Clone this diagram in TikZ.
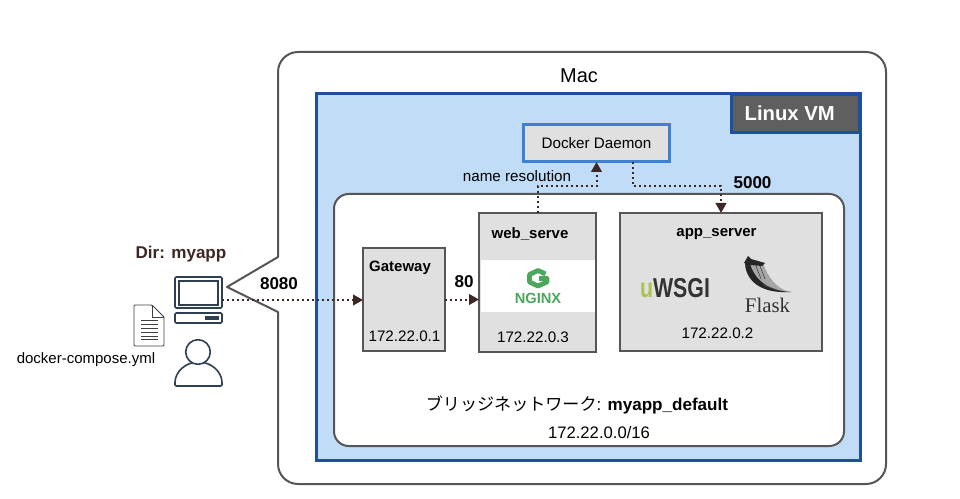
\documentclass[tikz,border=0pt]{standalone}
\usepackage{xcolor}
\usepackage{fontspec}
\setmainfont{Liberation Sans}
\newfontfamily\cjkfont{Noto Sans CJK JP}
\newfontfamily\flaskfont{Liberation Serif}
\usetikzlibrary{calc,arrows.meta}
\definecolor{frame}{HTML}{565656}
\definecolor{vmblue}{HTML}{1F4F9F}
\definecolor{vmfill}{HTML}{C0DCF7}
\definecolor{daemonblue}{HTML}{3D80D6}
\definecolor{boxgray}{HTML}{E0E0E0}
\definecolor{tagbg}{HTML}{5F5F5F}
\definecolor{linkc}{HTML}{3E2723}
\definecolor{icon}{HTML}{2F3F52}
\definecolor{nginxg}{HTML}{4CA65C}
\definecolor{uwsgig}{HTML}{A8C44E}
\tikzset{
  macbox/.style={draw=frame, fill=white, line width=1.5pt, line join=round},
  vmbox/.style={draw=vmblue, fill=vmfill, line width=2.25pt},
  vmtag/.style={draw=vmblue, fill=tagbg, line width=2.25pt, outer sep=0pt, text=white, font=\fontsize{15.2}{18}\selectfont\bfseries},
  daemonbox/.style={draw=daemonblue, fill=boxgray, line width=2.25pt, outer sep=0pt, font=\fontsize{11.4}{14}\selectfont},
  netbox/.style={draw=frame, fill=white, line width=1.5pt, rounded corners=11pt},
  srv/.style={draw=frame, fill=boxgray, line width=1.5pt, outer sep=0pt},
  link/.style={draw=linkc, line width=1.5pt, dash pattern=on 1.5pt off 2.25pt, -{Triangle[length=7.5pt,width=8pt]}},
  ico/.style={draw=icon, line width=1.2pt, rounded corners=1pt},
  lab/.style={text=black, font=\fontsize{11.4}{14}\selectfont},
  labb/.style={text=black, font=\fontsize{11.25}{14}\selectfont\bfseries},
  port/.style={text=black, font=\fontsize{12.8}{15}\selectfont\bfseries},
}
\begin{document}
\begin{tikzpicture}[x=0.75pt,y=-0.75pt]
  \useasboundingbox (0,0) rectangle (960,499);
  \draw[macbox, rounded corners=15pt] (278,90) -- (278,52) -- (886,52) -- (886,484) -- (278,484) -- (278,350) [sharp corners] -- (278,312) -- (227,287) -- (278,257) -- cycle;
  \node[font=\fontsize{15}{18}\selectfont] (mac) at (579,76) {Mac};
  \draw[vmbox] (316,94) rectangle (860,460);
  \node[vmtag, minimum width=96pt, minimum height=28pt] (vmtag) at (795,113.5) {\hspace*{-8pt}Linux VM};
  \node[daemonbox, minimum width=110pt, minimum height=27.75pt] (daemon) at (596.5,143.5) {Docker Daemon};
  \draw[netbox] (334,194) rectangle (844,446);

  \node[srv, minimum width=61.5pt, minimum height=77.25pt] (gateway) at (404,299.5) {};
  \node[srv, minimum width=87.75pt, minimum height=104.25pt] (web) at (537.5,282.5) {};
  \node[srv, minimum width=151.5pt, minimum height=103.5pt] (app) at (721,282) {};
  \fill[white] (481,260) rectangle (595,312);

  \node[labb] (gatewaylab) at (400,267.5) {Gateway};
  \node[lab] (gatewayip) at (404.5,336.5) {172.22.0.1};
  \node[labb] (weblab) at (530,234) {web\_serve};
  \node[lab] (webip) at (533,337) {172.22.0.3};
  \node[labb] (applab) at (716.5,234) {app\_server};
  \node[lab] (appip) at (717.5,333) {172.22.0.2};

  \draw[nginxg, line width=3.6pt, line join=round] (545.5,274) -- (538,270.5) -- (529.5,274.5) -- (529.5,282) -- (538,286) -- (547,282) -- (547,278.5) -- (539,278.5);
  \node[text=nginxg, font=\fontsize{11}{13}\selectfont\bfseries] (nginx) at (538,298.5) {NGINX};
  \node[inner sep=0pt] (uwsgi) at (675,288) {\scalebox{0.78}[1]{\fontsize{20.5}{24}\selectfont\bfseries\textcolor{uwsgig}{u}\textcolor{black!80}{WSGI}}};
  \fill[black!35] (745,262) .. controls (745,276) and (755,294) .. (791,292) .. controls (777,290) and (767,276) .. (763,263) -- cycle;
  \fill[black!85] (745,262) .. controls (745,276) and (755,294) .. (791,292) .. controls (768,291) and (755,280) .. (750,264) -- cycle;
  \fill[black!85] (744,263) -- (748,256) -- (751,259) -- (765,263) -- (762,266) -- (750,265) -- cycle;
  \draw[black!70, line width=0.5pt] (756,266) -- (761,279) (760,266) -- (765,279) (763,285) -- (777,290);
  \node[font=\flaskfont\fontsize{15.6}{18}\selectfont, text=black!80] (flask) at (767.5,305) {Flask};

  \node[minimum width=35.25pt, minimum height=34.5pt, inner sep=0pt, outer sep=0pt] (pc) at (198.5,300) {};
  \draw[ico] (175,277) rectangle (222,308);
  \draw[ico, rounded corners=0pt] (179,281) rectangle (218,305);
  \draw[ico] (175,313) rectangle (222,323);
  \fill[icon] (205,316) rectangle (219,320);
  \draw[ico] (175,386) -- (175,384) arc (180:360:23.5 and 22) -- (222,386) -- cycle;
  \draw[ico, fill=white] (198,352) circle (12.3);
  \draw[draw=black!75, line width=0.7pt, rounded corners=0.8pt] (134,305) -- (152,305) -- (164,317) -- (164,346) -- (134,346) -- cycle;
  \draw[draw=black!75, line width=0.7pt] (152,305) -- (152,317) -- (164,317);
  \foreach \y in {320,324,328,332,336,339}
    \draw[draw=black!75, line width=0.7pt] (141,\y) -- (158,\y);

  \node[text=linkc, font=\fontsize{12.8}{15}\selectfont\bfseries] (dirlab) at (181,254) {Dir: myapp};
  \node[lab, font=\fontsize{11.25}{14}\selectfont] (composelab) at (86,360) {docker-compose.yml};
  \node[port] (p8080) at (279,284) {8080};
  \node[port] (p80) at (464,282) {80};
  \node[port] (p5000) at (752.5,182.5) {5000};
  \node[lab] (resolve) at (517,176) {name resolution};

  \coordinate (busL) at (daemon.south |- 0,186);
  \coordinate (busR) at (app.north |- 0,186);
  \coordinate (daemonout) at (633,162);
  \draw[link] (pc.east) -- (gateway.west |- pc.east);
  \draw[link] (gateway.east) -- (gateway.east -| web.west);
  \draw[link] (web.north) |- (busL) -- (daemon.south);
  \draw[link] (daemonout) |- (busR) -- (app.north);

  \node[font=\fontsize{12.8}{16}\selectfont] (bridge) at (577,405) {{\cjkfont ブリッジネットワーク}: \textbf{myapp\_default}};
  \node[lab, font=\fontsize{12.5}{15}\selectfont] (subnet) at (599,433) {172.22.0.0/16};
\end{tikzpicture}
\end{document}
